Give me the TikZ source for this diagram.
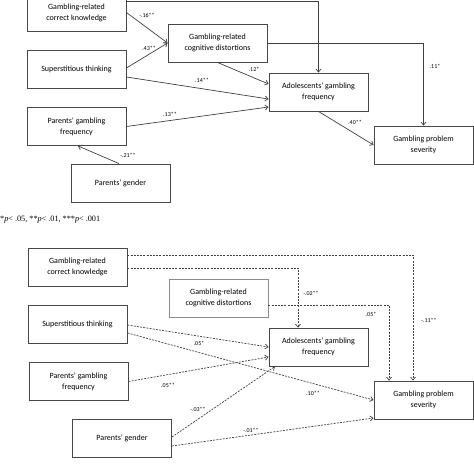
\documentclass[tikz,border=0pt]{standalone}
\usepackage{fontspec}
\setmainfont{Carlito}
\newfontfamily\notefont{Liberation Serif}
\usetikzlibrary{arrows.meta,calc}
\tikzset{
  box/.style={draw=black!72,line width=0.9pt,minimum width=99pt,minimum height=38pt,
    align=center,inner sep=1pt,font=\fontsize{8}{11}\selectfont},
  link/.style={-{Straight Barb[length=3pt,width=5pt]},draw=black!75,line width=0.7pt},
  dlink/.style={link,dash pattern=on 2pt off 1.2pt},
  coef/.style={inner sep=0pt,font=\fontsize{6}{7}\selectfont}
}

\begin{document}
\begin{tikzpicture}[x=1pt,y=-1pt]
    \useasboundingbox (0,0) rectangle (474,474);

    % direct effects
    \node[box] (know1) at (76.5,12.5) {Gambling-related\\correct knowledge};
    \node[box] (dist1) at (217.5,43) {Gambling-related\\cognitive distortions};
    \node[box] (sup1) at (76.5,69) {Superstitious thinking};
    \node[box] (adol1) at (318.5,92) {Adolescents’ gambling\\frequency};
    \node[box] (pfreq1) at (76.5,126.5) {Parents’ gambling\\frequency};
    \node[box] (pgen1) at (120.5,183) {Parents’ gender};
    \node[box] (sev1) at (423.5,145) {Gambling problem\\severity};

    \draw[link] (know1.east) -- (dist1.west);
    \draw[link] ([yshift=1pt]sup1.east) -- (dist1.west);
    \draw[link] ([yshift=-8pt]sup1.east) -- ([yshift=-7pt]adol1.west);
    \draw[link] (dist1.south) -- ([yshift=8pt]adol1.west);
    \draw[link] (pfreq1.east) -- ([yshift=-15pt]adol1.west);
    \draw[link] ([xshift=-1.5pt]pgen1.north) -- ([xshift=1.5pt]pfreq1.south);
    \draw[link] (adol1.south) -- (sev1.west);
    \draw[link] (dist1.east) -| (sev1.north);
    \draw[link] ([yshift=11.5pt]know1.east) -| (adol1.north);

    \node[coef] (c16) at (147,15) {-.16**};
    \node[coef] (c43) at (149,48) {.43**};
    \node[coef] (c14) at (202,80) {.14**};
    \node[coef] (c12) at (254,69) {.12*};
    \node[coef] (c11) at (435,66) {.11*};
    \node[coef] (c13) at (170,114) {.13**};
    \node[coef] (c21) at (128,155) {-.21**};
    \node[coef] (c40) at (355,122) {.40**};

    \node[anchor=west,inner sep=0pt,font=\notefont\fontsize{8.2}{10}\selectfont] (note)
      at (0,220) {*\textit{p}< .05, **\textit{p}< .01, ***\textit{p}< .001};

    % indirect effects
    \node[box] (know2) at (77.5,267) {Gambling-related\\correct knowledge};
    \node[box,draw=black!45] (dist2) at (218.5,298) {Gambling-related\\cognitive distortions};
    \node[box] (sup2) at (77.5,324) {Superstitious thinking};
    \node[box] (adol2) at (318.5,347) {Adolescents’ gambling\\frequency};
    \node[box] (pfreq2) at (78.5,381.5) {Parents’ gambling\\frequency};
    \node[box] (pgen2) at (122,438) {Parents’ gender};
    \node[box] (sev2) at (423.5,400) {Gambling problem\\severity};

    \draw[dlink] ([yshift=12pt]know2.east) -| ([xshift=-10.5pt]sev2.north);
    \draw[dlink] ([yshift=-1pt]know2.east) -| ([xshift=-20.5pt]adol2.north);
    \draw[dlink] ([yshift=-7pt]dist2.east) -| ([xshift=-34.5pt]sev2.north);
    \draw[dlink] ([yshift=-1pt]sup2.east) -- (adol2.west);
    \draw[dlink] ([yshift=-9pt]sup2.east) -- (sev2.west);
    \draw[dlink] (pfreq2.east) -- ([yshift=-10pt]adol2.west);
    \draw[dlink] ([yshift=1pt]pgen2.east) -- ([xshift=-43.5pt]adol2.south);
    \draw[dlink] ([yshift=-8pt]pgen2.east) -- ([yshift=-18pt]sev2.west);

    \node[coef] (d11) at (429,320) {-.11**};
    \node[coef] (d02) at (311,293) {-.02**};
    \node[coef] (d05a) at (371,314) {.05*};
    \node[coef] (d05b) at (199,343) {.05*};
    \node[coef] (d05c) at (168,385) {.05**};
    \node[coef] (d03) at (198,409) {-.03**};
    \node[coef] (d10) at (313,393) {.10**};
    \node[coef] (d01) at (251,430) {-.01**};
\end{tikzpicture}
\end{document}
